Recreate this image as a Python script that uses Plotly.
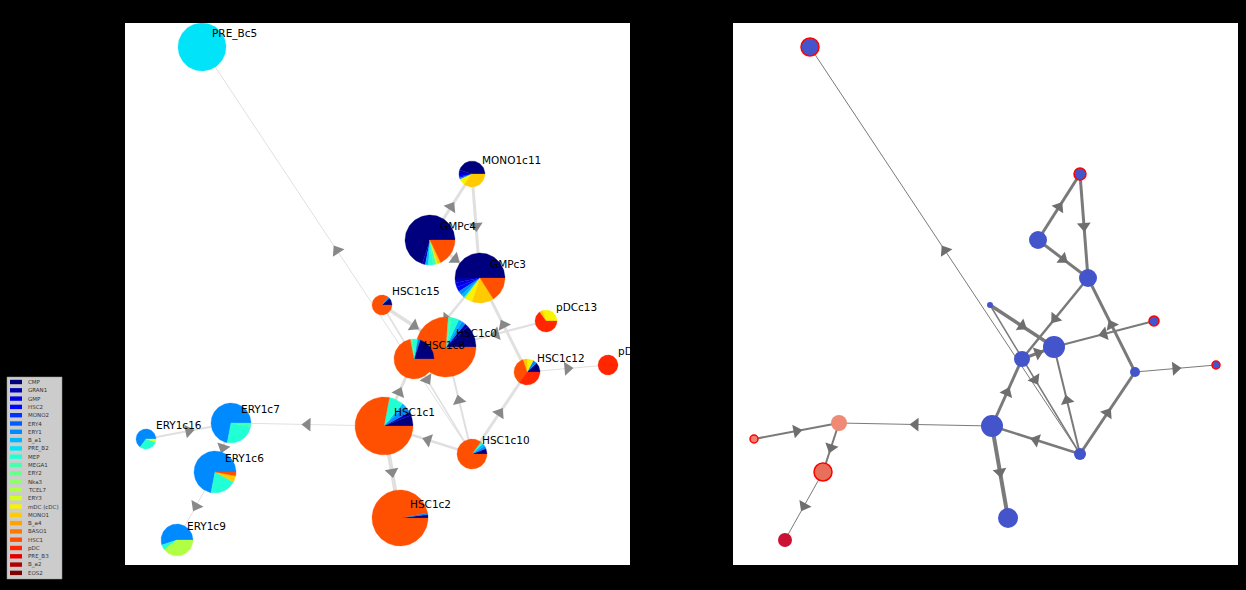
import math
import plotly.graph_objects as go

categories = ["CMP","GRAN1","GMP","HSC2","MONO2","ERY4","ERY1","B_a1","PRE_B2","MEP","MEGA1","ERY2",
              "Nka3","TCEL7","ERY3","mDC (cDC)","MONO1","B_a4","BASO1","HSC1","pDC","PRE_B3","B_a2","EOS2"]

node_names = ["PRE_Bc5","MONO1c11","GMPc4","GMPc3","HSC1c15","pDCc13","HSC1c0","HSC1c8","HSC1c12","pDCc14",
              "HSC1c1","HSC1c10","HSC1c2","ERY1c7","ERY1c16","ERY1c6","ERY1c9"]
node_x = [202,472,430,480,382,546,446,414,527,608,384,472,400,231,146,215,177]
node_y = [47,174,240,278,305,321,347,359,372,365,426,454,518,423,439,472,540]
pie_radius = [24,13,25,25,10,11,30,20,13,10,29,15,28,20,10,21,16]
right_radius = [9,6,9,9,3,5,11,8,5,4,11,6,10,8,4,9,7]
right_fill = ["#4455cc","#4455cc","#4455cc","#4455cc","#4455cc","#4455cc","#4455cc","#4455cc","#4455cc","#4455cc",
              "#4455cc","#4455cc","#4455cc","#ee8a76","#f08070","#e8705a","#cc1133"]
right_edge = ["red","red",None,None,None,"red",None,None,None,"red",None,None,None,None,"red","red",None]

compositions = {
    "PRE_Bc5": {"PRE_B2":1.0},
    "MONO1c11": {"CMP":0.45,"GRAN1":0.05,"GMP":0.03,"HSC2":0.02,"ERY1":0.02,"mDC (cDC)":0.08,"MONO1":0.35},
    "GMPc4": {"CMP":0.7,"GRAN1":0.02,"B_a1":0.02,"MEP":0.03,"MEGA1":0.02,"ERY3":0.01,"MONO1":0.02,"HSC1":0.18},
    "GMPc3": {"CMP":0.5,"GRAN1":0.03,"GMP":0.03,"HSC2":0.03,"ERY1":0.03,"B_a1":0.02,"MEP":0.01,"mDC (cDC)":0.05,"MONO1":0.14,"HSC1":0.16},
    "HSC1c15": {"CMP":0.12,"ERY1":0.03,"HSC1":0.85},
    "pDCc13": {"mDC (cDC)":0.3,"MONO1":0.05,"pDC":0.65},
    "HSC1c0": {"CMP":0.12,"GRAN1":0.02,"ERY1":0.02,"B_a1":0.02,"MEP":0.04,"MEGA1":0.02,"HSC1":0.76},
    "HSC1c8": {"CMP":0.2,"ERY1":0.02,"MEP":0.04,"MEGA1":0.02,"HSC1":0.72},
    "HSC1c12": {"CMP":0.12,"ERY1":0.05,"mDC (cDC)":0.08,"MONO1":0.05,"HSC1":0.35,"pDC":0.35},
    "pDCc14": {"pDC":1.0},
    "HSC1c1": {"CMP":0.06,"GRAN1":0.02,"ERY1":0.04,"B_a1":0.02,"MEP":0.08,"HSC1":0.78},
    "HSC1c10": {"CMP":0.06,"ERY1":0.03,"B_a1":0.03,"MEP":0.03,"HSC1":0.85},
    "HSC1c2": {"CMP":0.02,"ERY1":0.01,"HSC1":0.97},
    "ERY1c7": {"ERY1":0.72,"MEP":0.25,"MEGA1":0.03},
    "ERY1c16": {"ERY1":0.65,"MEP":0.3,"ERY3":0.05},
    "ERY1c6": {"ERY1":0.72,"MEP":0.2,"MONO1":0.05,"HSC1":0.03},
    "ERY1c9": {"ERY1":0.55,"MEP":0.05,"TCEL7":0.4},
}

edge_src = ["HSC1c10","GMPc4","MONO1c11","GMPc4","GMPc3","HSC1c15","HSC1c15","HSC1c12","pDCc13","HSC1c12",
            "HSC1c10","HSC1c10","HSC1c10","HSC1c1","HSC1c1","HSC1c1","ERY1c16","ERY1c7","ERY1c6","HSC1c8"]
edge_dst = ["PRE_Bc5","MONO1c11","GMPc3","GMPc3","HSC1c8","HSC1c0","HSC1c10","GMPc3","HSC1c0","pDCc14",
            "HSC1c12","HSC1c1","HSC1c0","HSC1c8","HSC1c2","ERY1c7","ERY1c7","ERY1c6","ERY1c9","HSC1c0"]
edge_w = [1,3,3,3,2.5,3.5,1.5,3,2,1,3,2.5,2,3,4,1,2,2,1,3]


def seg(v, pts):
    for (x0, y0), (x1, y1) in zip(pts[:-1], pts[1:]):
        if x0 <= v <= x1:
            return y0 + (y1 - y0) * (v - x0) / (x1 - x0) if x1 > x0 else y1
    return pts[-1][1]

def jet(v):
    r = seg(v, [(0, 0), (0.35, 0), (0.66, 1), (0.89, 1), (1, 0.5)])
    g = seg(v, [(0, 0), (0.125, 0), (0.375, 1), (0.64, 1), (0.91, 0), (1, 0)])
    b = seg(v, [(0, 0.5), (0.11, 1), (0.34, 1), (0.65, 0), (1, 0)])
    return "rgb(%d,%d,%d)" % (r * 255, g * 255, b * 255)

colors = {cat: jet(i / (len(categories) - 1)) for i, cat in enumerate(categories)}
idx = {n: i for i, n in enumerate(node_names)}

fig = go.Figure()

def add_edges(xa, ya, line_color, arrow_color):
    for s, d, w in zip(edge_src, edge_dst, edge_w):
        x0, y0 = node_x[idx[s]], node_y[idx[s]]
        x1, y1 = node_x[idx[d]], node_y[idx[d]]
        fig.add_trace(go.Scatter(x=[x0, x1], y=[y0, y1], mode="lines", xaxis=xa, yaxis=ya,
                                 line=dict(color=line_color, width=w), hoverinfo="skip", showlegend=False))
    mx, my, ang = [], [], []
    for s, d in zip(edge_src, edge_dst):
        x0, y0 = node_x[idx[s]], node_y[idx[s]]
        x1, y1 = node_x[idx[d]], node_y[idx[d]]
        mx.append((x0 + x1) / 2); my.append((y0 + y1) / 2)
        ang.append(math.degrees(math.atan2(x1 - x0, -(y1 - y0))))
    fig.add_trace(go.Scatter(x=mx, y=my, mode="markers", xaxis=xa, yaxis=ya, showlegend=False, hoverinfo="skip",
                             marker=dict(symbol="triangle-up", size=12, angle=ang, color=arrow_color,
                                         line=dict(width=0))))

add_edges("x", "y", "#e0e0e0", "#888888")
add_edges("x2", "y2", "#7a7a7a", "#6e6e6e")

for n in node_names:
    cx, cy, r = node_x[idx[n]], node_y[idx[n]], pie_radius[idx[n]]
    comp = compositions[n]
    tot = sum(comp.values())
    a = 0.0
    for cat in categories:
        if cat not in comp:
            continue
        frac = comp[cat] / tot
        a0, a1 = a, a + frac * 2 * math.pi
        steps = max(2, int(frac * 120))
        xs, ys = [cx], [cy]
        for k in range(steps + 1):
            t = a0 + (a1 - a0) * k / steps
            xs.append(cx + r * math.cos(t)); ys.append(cy - r * math.sin(t))
        xs.append(cx); ys.append(cy)
        fig.add_trace(go.Scatter(x=xs, y=ys, mode="lines", fill="toself", fillcolor=colors[cat],
                                 line=dict(width=0.3, color=colors[cat]), hoverinfo="skip", showlegend=False))
        a = a1

fig.add_trace(go.Scatter(x=[x + 10 for x in node_x], y=[y - 13 for y in node_y], mode="text",
                         text=node_names, textposition="middle right", cliponaxis=True,
                         textfont=dict(family="DejaVu Sans", size=10.5, color="black"),
                         hoverinfo="skip", showlegend=False))

for i, n in enumerate(node_names):
    fig.add_trace(go.Scatter(x=[node_x[i]], y=[node_y[i]], mode="markers", xaxis="x2", yaxis="y2",
                             showlegend=False, hoverinfo="skip",
                             marker=dict(size=2 * right_radius[i], color=right_fill[i],
                                         line=dict(width=1.5 if right_edge[i] else 0,
                                                   color=right_edge[i] or right_fill[i]))))

W, H = 1246, 590
axstyle = dict(range=[125, 630], showgrid=False, zeroline=False, showticklabels=False, ticks="")
ystyle = dict(range=[565, 23], showgrid=False, zeroline=False, showticklabels=False, ticks="")
fig.update_layout(
    width=W, height=H, margin=dict(l=0, r=0, t=0, b=0),
    paper_bgcolor="black", plot_bgcolor="white",
    xaxis=dict(domain=[125 / W, 630 / W], **axstyle),
    yaxis=dict(domain=[1 - 565 / H, 1 - 23 / H], **ystyle),
    xaxis2=dict(domain=[733 / W, 1238 / W], **axstyle),
    yaxis2=dict(domain=[1 - 565 / H, 1 - 23 / H], anchor="x2", **ystyle),
)

shapes = [dict(type="rect", xref="paper", yref="paper", x0=7 / W, x1=62 / W, y0=1 - 579 / H, y1=1 - 377 / H,
               fillcolor="#cccccc", line=dict(color="#999999", width=0.5), layer="above")]
anns = []
for i, cat in enumerate(categories):
    yc = 382 + i * 8.3
    shapes.append(dict(type="rect", xref="paper", yref="paper", x0=10 / W, x1=22 / W,
                       y0=1 - (yc + 2.2) / H, y1=1 - (yc - 2.2) / H, fillcolor=colors[cat], line=dict(width=0)))
    anns.append(dict(x=26 / W, y=1 - yc / H, xref="paper", yref="paper", text=cat, showarrow=False,
                     xanchor="left", yanchor="middle", font=dict(family="DejaVu Sans", size=5.5, color="#333")))
fig.update_layout(shapes=shapes, annotations=anns)

fig.write_html("out.html", config={"displayModeBar": False},
               post_script="document.body.style.margin='0';document.body.style.background='black';")
